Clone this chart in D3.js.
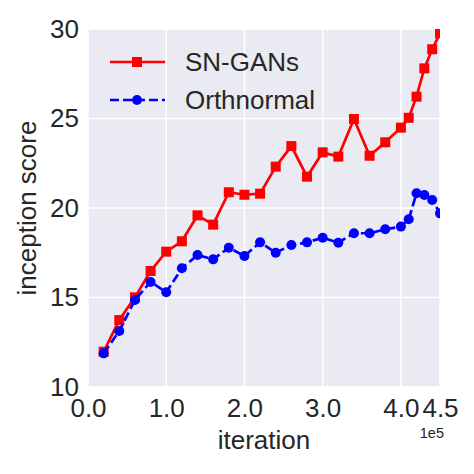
<!DOCTYPE html>
<html>
<head>
<meta charset="utf-8">
<script src="https://cdn.jsdelivr.net/npm/d3@7/dist/d3.min.js"></script>
<style>
  body { margin: 0; background: #fff; }
  svg text { font-family: "Liberation Sans", Arial, sans-serif; fill: #262626; }
</style>
</head>
<body>
<svg id="chart" width="474" height="474"></svg>
<script>
// iterations (points every 2e4, then every 1e4 near the end)
const iterations = [20000, 40000, 60000, 80000, 100000, 120000, 140000, 160000, 180000, 200000,
  220000, 240000, 260000, 280000, 300000, 320000, 340000, 360000, 380000, 400000,
  410000, 420000, 430000, 440000, 450000];

const snGans = [11.97, 13.74, 15.01, 16.48, 17.56, 18.14, 19.59, 19.07, 20.88, 20.74,
  20.80, 22.31, 23.46, 21.75, 23.11, 22.87, 24.97, 22.92, 23.67, 24.49,
  25.04, 26.22, 27.80, 28.87, 29.76];

const orthnormal = [11.88, 13.13, 14.86, 15.87, 15.29, 16.63, 17.37, 17.13, 17.78, 17.32,
  18.08, 17.50, 17.93, 18.08, 18.34, 18.06, 18.59, 18.59, 18.81, 18.96,
  19.37, 20.82, 20.73, 20.45, 19.70];

const xTicks = [0, 100000, 200000, 300000, 400000, 450000];
const yTicks = [10, 15, 20, 25, 30];

const svg = d3.select("#chart");
const margin = { top: 29, right: 34, bottom: 87, left: 88 };
const width = 474 - margin.left - margin.right;
const height = 474 - margin.top - margin.bottom;

const x = d3.scaleLinear().domain([0, 450000]).range([0, width]);
const y = d3.scaleLinear().domain([10, 30]).range([height, 0]);

const chart = svg.append("g")
  .attr("transform", `translate(${margin.left},${margin.top})`);

svg.append("defs").append("clipPath")
  .attr("id", "plot-clip")
  .append("rect")
  .attr("width", width)
  .attr("height", height);

// background
chart.append("rect")
  .attr("width", width)
  .attr("height", height)
  .attr("fill", "#eaeaf2");

// grid
chart.append("g")
  .selectAll("line.xg")
  .data(xTicks)
  .enter().append("line")
  .attr("x1", d => x(d)).attr("x2", d => x(d))
  .attr("y1", 0).attr("y2", height)
  .attr("stroke", "#fff").attr("stroke-width", 1.5);

chart.append("g")
  .selectAll("line.yg")
  .data(yTicks)
  .enter().append("line")
  .attr("x1", 0).attr("x2", width)
  .attr("y1", d => y(d)).attr("y2", d => y(d))
  .attr("stroke", "#fff").attr("stroke-width", 1.5);

// axes
const xAxis = chart.append("g")
  .attr("transform", `translate(0,${height})`)
  .call(d3.axisBottom(x).tickValues(xTicks).tickSize(0).tickPadding(12)
    .tickFormat(d => (d / 1e5).toFixed(1)));
xAxis.select(".domain").remove();
xAxis.selectAll("text").style("font-size", "26px").attr("fill", "#262626");

const yAxis = chart.append("g")
  .call(d3.axisLeft(y).tickValues(yTicks).tickSize(0).tickPadding(9));
yAxis.select(".domain").remove();
yAxis.selectAll("text").style("font-size", "26px").attr("fill", "#262626");

// axis labels
chart.append("text")
  .attr("x", width / 2)
  .attr("y", height + 62)
  .attr("text-anchor", "middle")
  .style("font-size", "26px")
  .text("iteration");

chart.append("text")
  .attr("transform", "rotate(-90)")
  .attr("x", -height / 2)
  .attr("y", -61)
  .attr("dy", "0.35em")
  .attr("text-anchor", "middle")
  .style("font-size", "26px")
  .text("inception score");

chart.append("text")
  .attr("x", width + 4)
  .attr("y", height + 51)
  .attr("text-anchor", "end")
  .style("font-size", "14.5px")
  .text("1e5");

// series
const series = [
  { name: "SN-GANs", values: snGans, color: "#ff0000", dash: null, marker: "square" },
  { name: "Orthnormal", values: orthnormal, color: "#0000ff", dash: "9,4", marker: "circle" }
];

const plot = chart.append("g").attr("clip-path", "url(#plot-clip)");

const line = d3.line()
  .x((d, i) => x(iterations[i]))
  .y(d => y(d));

function drawMarker(g, type, cx, cy, color) {
  if (type === "square") {
    g.append("rect")
      .attr("x", cx - 5).attr("y", cy - 5)
      .attr("width", 10).attr("height", 10)
      .attr("fill", color);
  } else {
    g.append("circle")
      .attr("cx", cx).attr("cy", cy).attr("r", 5)
      .attr("fill", color);
  }
}

series.forEach(s => {
  plot.append("path")
    .datum(s.values)
    .attr("d", line)
    .attr("fill", "none")
    .attr("stroke", s.color)
    .attr("stroke-width", 2.7)
    .attr("stroke-dasharray", s.dash);
  s.values.forEach((v, i) => drawMarker(plot, s.marker, x(iterations[i]), y(v), s.color));
});

// legend
const legend = chart.append("g").attr("transform", "translate(22,33)");
series.forEach((s, i) => {
  const ly = i * 38;
  legend.append("line")
    .attr("x1", 0).attr("x2", 55)
    .attr("y1", ly).attr("y2", ly)
    .attr("stroke", s.color)
    .attr("stroke-width", 2.7)
    .attr("stroke-dasharray", s.dash);
  drawMarker(legend, s.marker, 27, ly, s.color);
  legend.append("text")
    .attr("x", 75)
    .attr("y", ly)
    .attr("dy", "0.35em")
    .style("font-size", "26px")
    .text(s.name);
});
</script>
</body>
</html>
